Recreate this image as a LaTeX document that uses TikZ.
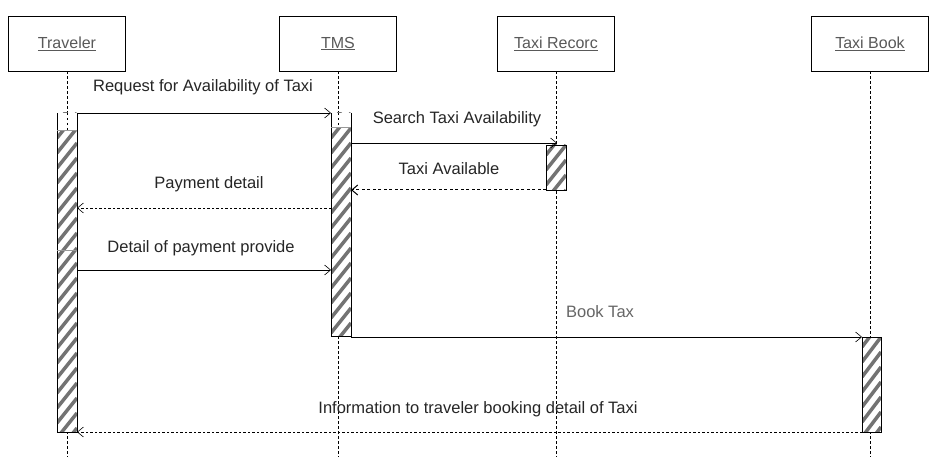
\documentclass[tikz,border=0pt]{standalone}
\usepackage{fontspec}
\setmainfont{Liberation Sans}
\usetikzlibrary{arrows.meta}
\tikzset{
 obj/.style={draw,line width=0.6pt,minimum width=117pt,minimum height=55pt,inner sep=0pt,font=\fontsize{16}{18}\selectfont,text=black!65},
 life/.style={dash pattern=on 2.5pt off 2.5pt,line width=0.5pt},
 msg/.style={-{Straight Barb[length=6pt,width=10pt]},line width=0.6pt},
 dmsg/.style={msg,dash pattern=on 2.5pt off 2pt},
 lbl/.style={font=\fontsize{16.5}{18}\selectfont,text=black!85},
}
\newcommand{\actbar}[5]{% name, x1, y1, x2, y2
 \begin{scope}
 \clip (#2,#3) rectangle (#4,#5);
 \fill[white] (#2,#3) rectangle (#4,#5);
 \foreach \k in {-30,-15,...,360}{\draw[line width=3.5pt,black!55] (#2,#3+\k+25) -- (#4,#3+\k);}
 \end{scope}
 \draw[line width=0.6pt] (#2,#3) rectangle (#4,#5);
 \coordinate (#1t) at ({(#2+#4)/2},#3);
}
\begin{document}
\begin{tikzpicture}[x=1pt,y=-1pt]
\useasboundingbox[fill=white] (0,0) rectangle (943,457);
\node[obj] (trav) at (67,43.5) {\underline{Traveler}};
\node[obj] (tms) at (338,43.5) {\underline{TMS}};
\node[obj] (rec) at (556,43.5) {\underline{Taxi Recorc}};
\node[obj] (book) at (870,43.5) {\underline{Taxi Book}};
\coordinate (travE) at (67,457);\coordinate (tmsE) at (338,457);
\coordinate (recE) at (556,457);\coordinate (bookE) at (870,457);
\draw[life] (trav.south) -- (travE);
\draw[life] (tms.south) -- (tmsE);
\draw[life] (rec.south) -- (recE);
\draw[life] (book.south) -- (bookE);
\actbar{a}{57}{113}{77}{432}
\fill[white] (57.5,113.5) rectangle (76.5,130);
\draw[life] (67,113) -- (67,130);
\draw[line width=0.4pt,black!40] (57,130) -- (77,130);
\draw[line width=0.4pt,black!40] (57,250) -- (77,250);
\actbar{b}{331}{113}{351}{336}
\fill[white] (331.5,113.5) rectangle (350.5,127);
\draw[life] (338,113) -- (338,127);
\draw[line width=0.4pt,black!40] (331,127) -- (351,127);
\actbar{c}{546}{145}{566}{190}
\actbar{d}{862}{337}{881}{432}
\coordinate (p1s) at (77,113);\coordinate (p1e) at (331,113);
\coordinate (p2s) at (351,143);\coordinate (p2e) at (557,143);
\coordinate (p3s) at (546,190);\coordinate (p3e) at (351,190);
\coordinate (p4s) at (331,208);\coordinate (p4e) at (77,208);
\coordinate (p5s) at (77,270);\coordinate (p5e) at (331,270);
\coordinate (p6s) at (351,337);\coordinate (p6e) at (862,337);
\coordinate (p7s) at (862,432);\coordinate (p7e) at (77,432);
\draw[msg] (p1s) -- (p1e);
\draw[msg] (p2s) -- (p2e);
\draw[msg,line width=1pt,dash pattern=on 3pt off 2.5pt] (p3s) -- (p3e);
\draw[dmsg] (p4s) -- (p4e);
\draw[msg] (p5s) -- (p5e);
\draw[msg] (p6s) -- (p6e);
\draw[dmsg] (p7s) -- (p7e);
\node[lbl] (l1) at (203,87) {Request for Availability of Taxi};
\node[lbl] (l2) at (457,119) {Search Taxi Availability};
\node[lbl] (l3) at (449,169) {Taxi Available};
\node[lbl] (l4) at (209,184) {Payment detail};
\node[lbl] (l5) at (201,248) {Detail of payment provide};
\node[lbl,text=black!60] (l6) at (600,312) {Book Tax};
\node[lbl] (l7) at (478,409) {Information to traveler booking detail of Taxi};
\end{tikzpicture}
\end{document}
